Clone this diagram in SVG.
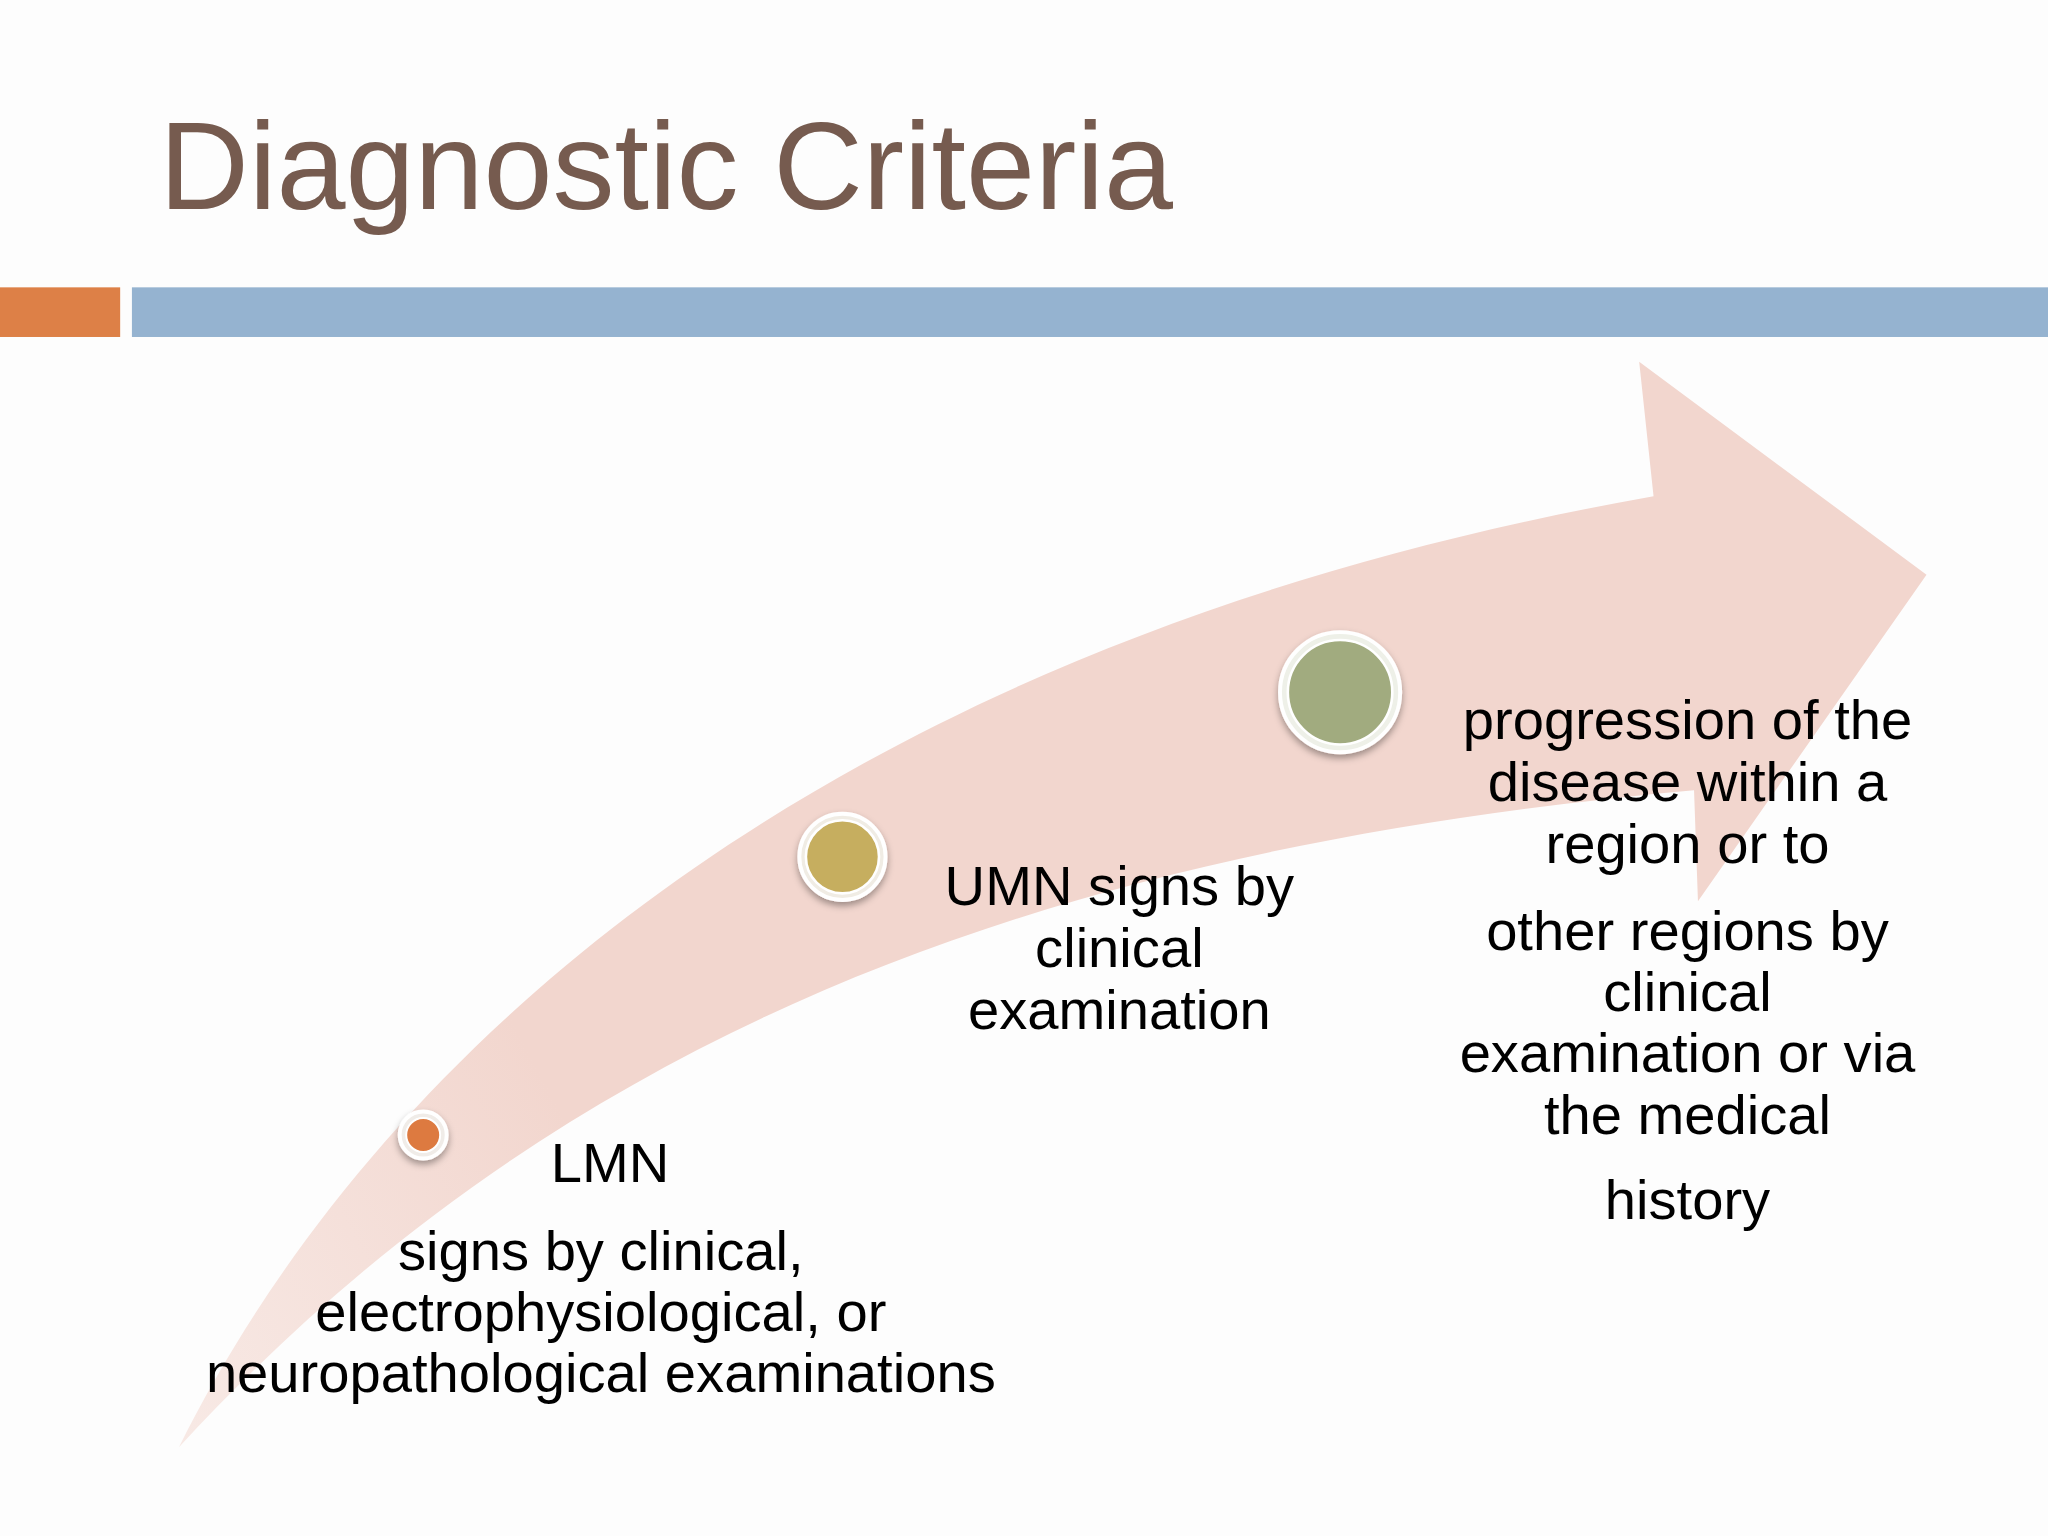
<svg xmlns="http://www.w3.org/2000/svg" width="2048" height="1536" viewBox="0 0 2048 1536">
<defs>
<linearGradient id="ag" x1="137" y1="1108" x2="1475" y2="400" gradientUnits="userSpaceOnUse">
<stop offset="0" stop-color="#f4dcd5" stop-opacity="0.6"/>
<stop offset="0.25" stop-color="#f2d6ce"/>
<stop offset="1" stop-color="#f2d6ce"/>
</linearGradient>
<filter id="sh" x="-50%" y="-50%" width="200%" height="200%"><feDropShadow dx="0" dy="3" stdDeviation="3" flood-opacity="0.35"/></filter>
</defs>
<style>
.t{font-family:"Liberation Sans",Arial,sans-serif;font-size:43px;fill:#000;text-anchor:middle}
.ring{stroke:#fff;stroke-width:3;filter:url(#sh)}
</style>
<rect width="2048" height="1536" fill="#fdfdfd"/>
<g transform="scale(1.30612)">
<g id="title"><text x="122" y="160" font-family="'Liberation Sans',Arial,sans-serif" font-size="95" fill="#765b4f">Diagnostic Criteria</text></g>
<g id="bars"><rect x="0" y="220" width="92" height="38" fill="#dd8047"/><rect x="101" y="220" width="1467" height="38" fill="#95b3d0"/></g>
<g id="arrow"><path d="M137,1108 C290,800 640,490 1266,380 L1255,277 L1475,440 L1300,690 L1297,605 C800,650 430,790 137,1108 Z" fill="url(#ag)"/></g>
<g id="n1"><circle cx="324" cy="869" r="18" fill="#f0ece8" class="ring"/><circle cx="324" cy="869" r="13" fill="#dd7a40" stroke="#fff" stroke-width="1.5"/>
<text class="t" x="467" y="905">LMN</text>
<text class="t" x="460" y="972">signs by clinical,</text>
<text class="t" x="460" y="1019">electrophysiological, or</text>
<text class="t" x="460" y="1066">neuropathological examinations</text></g>
<g id="n2"><circle cx="645" cy="656" r="33" fill="#f0ece4" class="ring"/><circle cx="645" cy="656" r="28" fill="#c6ae5f" stroke="#fff" stroke-width="2"/>
<text class="t" x="857" y="693">UMN signs by</text>
<text class="t" x="857" y="740">clinical</text>
<text class="t" x="857" y="788">examination</text></g>
<g id="n3"><circle cx="1026" cy="530" r="46" fill="#eef0e8" class="ring"/><circle cx="1026" cy="530" r="40" fill="#a1ab7f" stroke="#fff" stroke-width="2"/>
<text class="t" x="1292" y="566">progression of the</text>
<text class="t" x="1292" y="613">disease within a</text>
<text class="t" x="1292" y="661">region or to</text>
<text class="t" x="1292" y="727">other regions by</text>
<text class="t" x="1292" y="774">clinical</text>
<text class="t" x="1292" y="821">examination or via</text>
<text class="t" x="1292" y="868">the medical</text>
<text class="t" x="1292" y="933">history</text></g>
</g>
</svg>
